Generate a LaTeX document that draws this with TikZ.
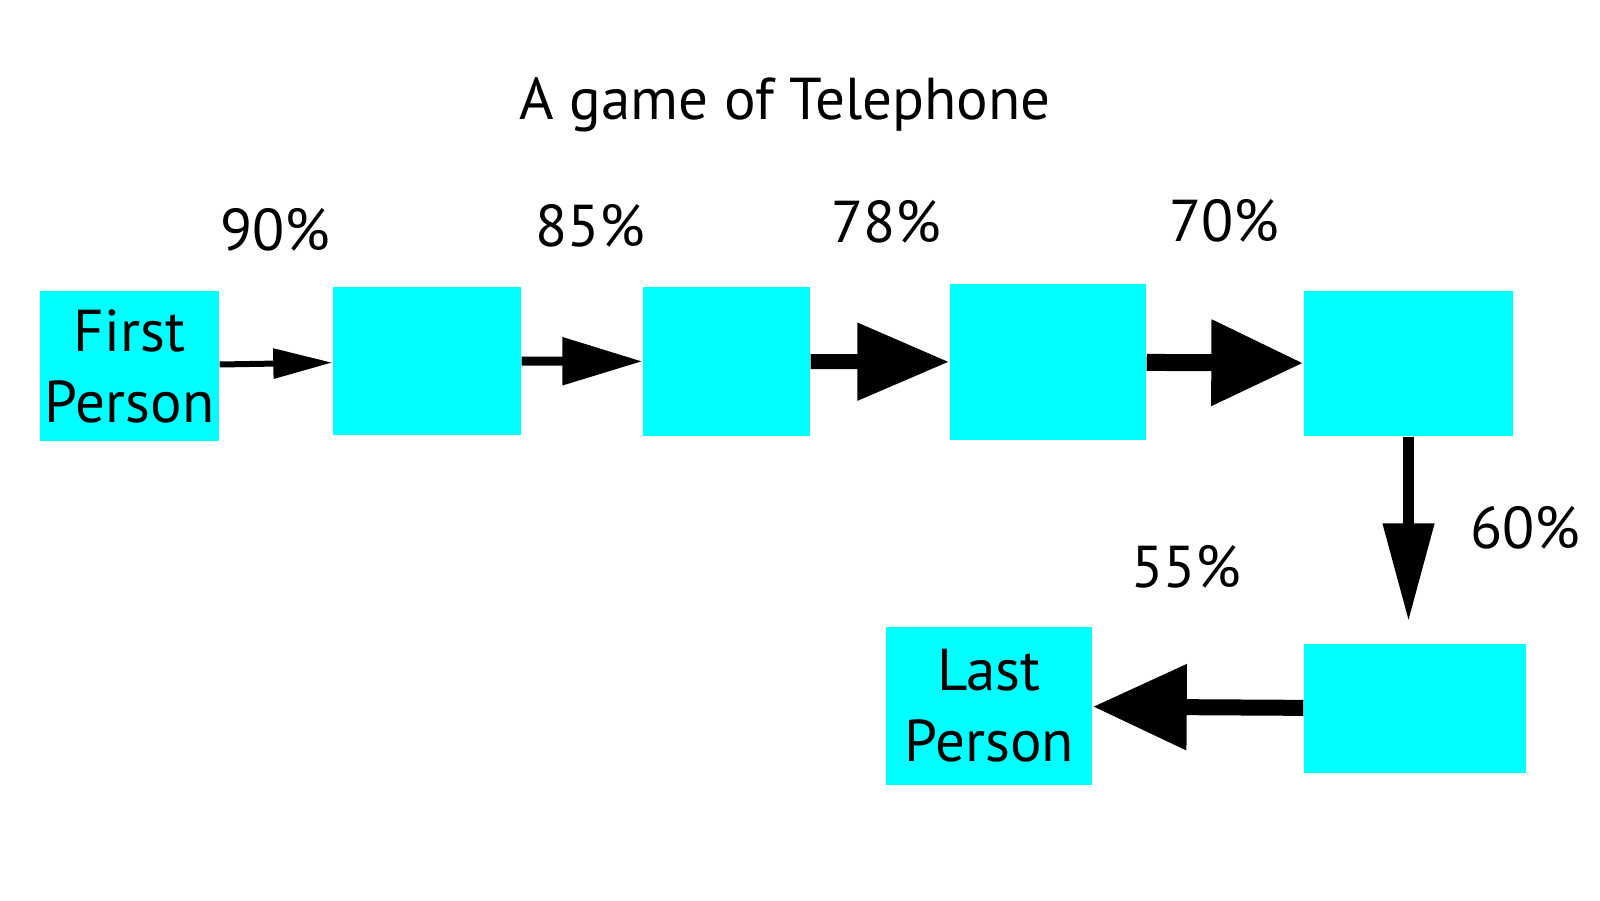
\documentclass[tikz,border=0pt]{standalone}
\usepackage{fontspec}
\setmainfont{PT Sans}
\usepackage{xcolor}
\usepackage{tikz}
\usetikzlibrary{arrows.meta}
\definecolor{aqua}{RGB}{0,255,255}

\begin{document}
\begin{tikzpicture}[font=\fontsize{16.8}{20.2}\selectfont]
        % Define styles
        \tikzstyle{person} = [rectangle, inner sep=0pt, text centered, align=center, fill=aqua]
        \tikzset{link/.style n args={3}{line width=#1, -{Triangle[length=#2, width=#3]}}}
        \useasboundingbox (0,0) rectangle (16,-9);

        % Title
        \node (title) at (7.85,-1.05) {A game of Telephone};

        % Nodes
        \node [person, minimum width=1.79cm, minimum height=1.50cm] (p1) at (1.295,-3.66) {First\\Person};
        \node [person, minimum width=1.88cm, minimum height=1.48cm] (p2) at (4.27,-3.61) {};
        \node [person, minimum width=1.67cm, minimum height=1.49cm] (p3) at (7.265,-3.615) {};
        \node [person, minimum width=1.96cm, minimum height=1.56cm] (p4) at (10.48,-3.62) {};
        \node [person, minimum width=2.09cm, minimum height=1.45cm] (p5) at (14.085,-3.635) {};
        \node [person, minimum width=2.22cm, minimum height=1.29cm] (p6) at (14.15,-7.085) {};
        \node [person, minimum width=2.06cm, minimum height=1.58cm] (p7) at (9.89,-7.06) {Last\\Person};

        % Arrows
        \draw [link={0.06cm}{0.59cm}{0.29cm}] (p1) -- (p2);
        \draw [link={0.09cm}{0.80cm}{0.46cm}] (p2) -- (p3);
        \draw [link={0.15cm}{0.92cm}{0.74cm}] (p3) -- (p4);
        \draw [link={0.17cm}{0.92cm}{0.82cm}] (p4) -- (p5);
        \draw [link={0.11cm}{0.98cm}{0.49cm}, shorten >=0.22cm] (p5.south) -- (p5.south |- p6.north);
        \draw [link={0.16cm}{0.94cm}{0.82cm}] (p6) -- (p7);

        % Labels
        \node (l90) at (2.75,-2.30) {90\%};
        \node (l85) at (5.90,-2.26) {85\%};
        \node (l78) at (8.86,-2.22) {78\%};
        \node (l70) at (12.24,-2.21) {70\%};
        \node (l60) at (15.25,-5.28) {60\%};
        \node (l55) at (11.86,-5.67) {55\%};
    \end{tikzpicture}
\end{document}
